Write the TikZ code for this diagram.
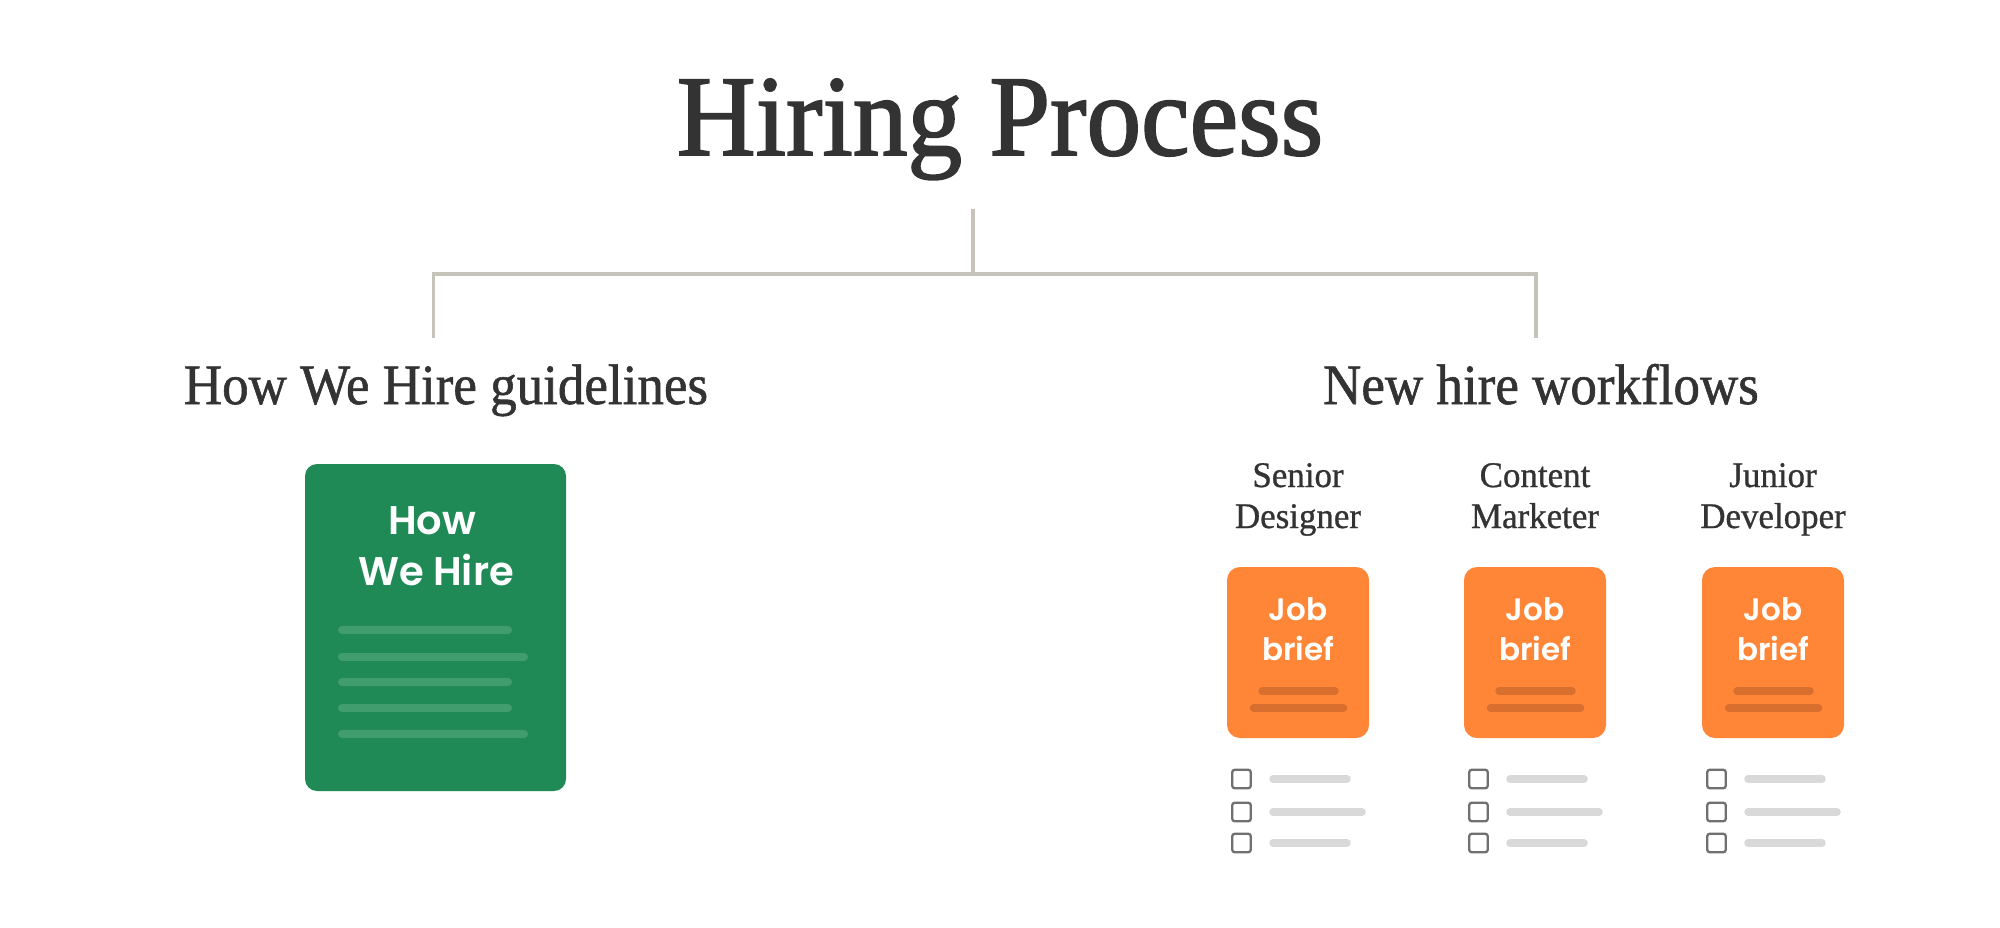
\documentclass[tikz,border=0pt]{standalone}
\usepackage{fontspec}
\setmainfont{Liberation Serif}
\newfontfamily\titlefont[FakeStretch=0.95,FakeBold=1.6]{Liberation Serif}
\newfontfamily\subfont[FakeStretch=0.93,FakeBold=1.0]{Liberation Serif}
\newfontfamily\labelfont[FakeStretch=0.97,FakeBold=0.8]{Liberation Serif}
\newfontfamily\cardfont[BoldFont={Poppins SemiBold}]{Poppins}
\definecolor{ink}{HTML}{333333}
\definecolor{conncol}{HTML}{C6C3BB}
\definecolor{cardgreen}{HTML}{1F8A56}
\definecolor{linegreen}{HTML}{419C6E}
\definecolor{cardorange}{HTML}{FF8636}
\definecolor{lineorange}{HTML}{D96F2F}
\definecolor{boxgray}{HTML}{707070}
\definecolor{bargray}{HTML}{D9D9D9}
\tikzset{
  conn/.style={draw=conncol, line width=3.5pt, line join=miter},
  titletext/.style={anchor=base, inner sep=0pt, text=ink, font=\titlefont\fontsize{115}{115}\selectfont},
  subtext/.style={anchor=base, inner sep=0pt, text=ink, font=\subfont\fontsize{57}{57}\selectfont},
  roletext/.style={anchor=base, inner sep=0pt, text=ink, font=\labelfont\fontsize{36}{36}\selectfont},
  greencard/.style={fill=cardgreen, rounded corners=12pt, minimum width=261pt, minimum height=327pt, inner sep=0pt},
  orangecard/.style={fill=cardorange, rounded corners=13pt, minimum width=142pt, minimum height=171pt, inner sep=0pt},
  gcardtext/.style={anchor=base, inner sep=0pt, text=white, font=\cardfont\bfseries\fontsize{40}{40}\selectfont},
  ocardtext/.style={anchor=base, inner sep=0pt, text=white, font=\cardfont\bfseries\fontsize{31}{31}\selectfont},
  gline/.style={draw=linegreen, line width=8pt, line cap=round},
  oline/.style={draw=lineorange, line width=7.5pt, line cap=round},
  checkbox/.style={draw=boxgray, line width=2.3pt, rounded corners=2.5pt, minimum width=18.5pt, minimum height=18.5pt, inner sep=0pt},
  gbar/.style={draw=bargray, line width=7.5pt, line cap=round}
}
\begin{document}
\begin{tikzpicture}[x=1pt, y=-1pt]
\useasboundingbox (0,0) rectangle (2000,927);
\fill[white] (0,0) rectangle (2000,927);

% title
\node[titletext] (title) at (1000,155) {Hiring Process};

% connectors
\coordinate (ttop) at (973,209);
\coordinate (jc) at (973,274);
\coordinate (jl) at (433.5,274);
\coordinate (jr) at (1536,274);
\coordinate (lend) at (433.5,338);
\coordinate (rend) at (1536,338);
\draw[conn] (ttop) -- (jc);
\draw[conn] (lend) -- (jl) -- (jr) -- (rend);

% sub headings
\node[subtext] (howsub) at (446,404) {How We Hire guidelines};
\node[subtext] (newsub) at (1541,404) {New hire workflows};

% green card
\node[greencard] (gcard) at (435.5,627.5) {};
\node[gcardtext] (how) at (432,534) {How};
\node[gcardtext] (wehire) at (436,585) {We Hire};
\draw[gline] (342,630) -- (508,630);
\draw[gline] (342,657) -- (524,657);
\draw[gline] (342,682) -- (508,682);
\draw[gline] (342,708) -- (508,708);
\draw[gline] (342,734) -- (524,734);

% workflows
\foreach \cx/\la/\lb/\n in {1298/Senior/Designer/a, 1535/Content/Marketer/b, 1773/Junior/Developer/c}{
  \node[roletext] (la\n) at (\cx,487) {\la};
  \node[roletext] (lb\n) at (\cx,528) {\lb};
  \node[orangecard] (card\n) at (\cx,652.5) {};
  \node[ocardtext] (job\n) at (\cx,620) {Job};
  \node[ocardtext] (brief\n) at (\cx,660) {brief};
  \draw[oline] (\cx-36,691) -- (\cx+37,691);
  \draw[oline] (\cx-44.5,708) -- (\cx+45.5,708);
  \node[checkbox] (cba\n) at (\cx-56.5,779) {};
  \node[checkbox] (cbb\n) at (\cx-56.5,812) {};
  \node[checkbox] (cbc\n) at (\cx-56.5,843) {};
  \draw[gbar] (\cx-25,779) -- (\cx+49,779);
  \draw[gbar] (\cx-25,812) -- (\cx+64,812);
  \draw[gbar] (\cx-25,843) -- (\cx+49,843);
}
\end{tikzpicture}
\end{document}
